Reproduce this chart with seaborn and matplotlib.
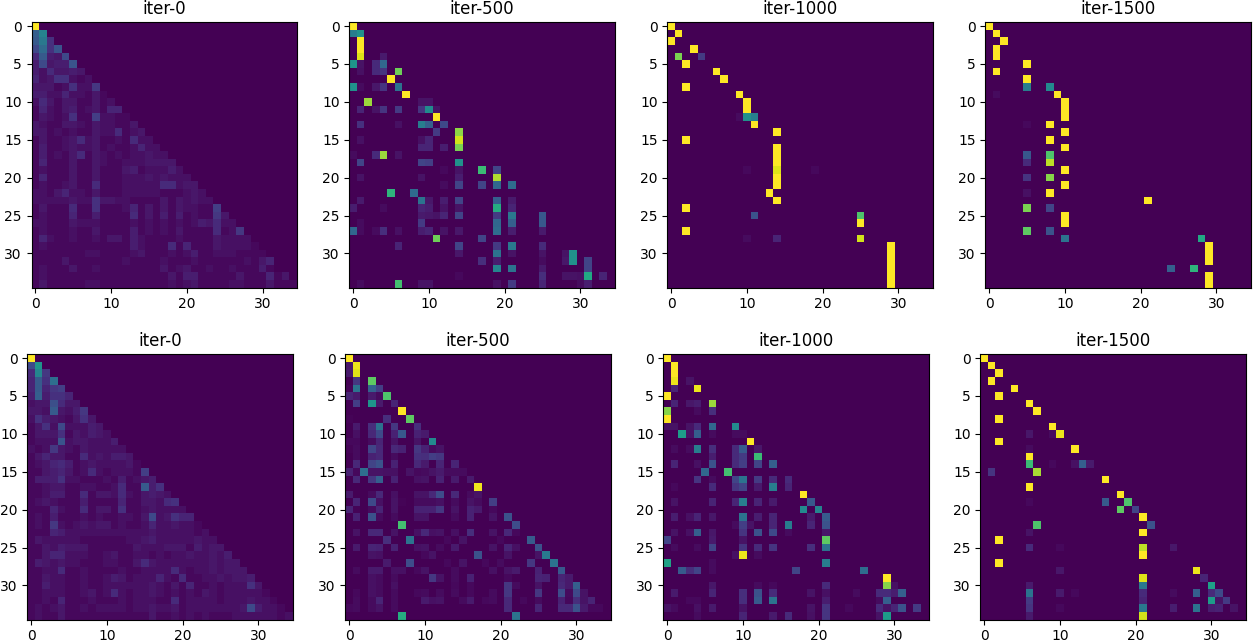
import numpy as np
import pandas as pd
import matplotlib
matplotlib.use("Agg")
import matplotlib.pyplot as plt
import seaborn as sns

N = 35
titles = ["iter-0", "iter-500", "iter-1000", "iter-1500"] * 2

# dense panels: one character per cell, base-36, z = 1.0
top_iter0 = [
"z","fm","ek7","bh7d","6e43b","4b344d","4263343","52377212","333127228","4422522131",
"26313311312","152134123155","1321271192211","32113321322113","331212113226123",
"1311236231121622","14112322312112522","141213613212122322","1511131132112223333",
"12111311311134122242","151113113111222323222","1211231161112222266233",
"22135221311122222111232","222223227332211113132322","1311161171112513131322119",
"12111511411116131414121183","221113222111121212121243622","1211121131111412121311116128",
"15211211213314211112111132222","121111111111142111615111322221",
"1111111221111231112124112221111","11113111111121111211121111112135",
"12111311211111111312311211211141","1211111111111111113144111113111513",
"13111112211111111121231111221113111",
]
bot_iter0 = [
"z","bq","6n8","5e7i","5e589","4f4775","233c633","332e3248","274321373","1372b22243",
"13337132432","1222d2332224","2128321322222","13533116232443","123564123222231",
"1134531262122219","14447221112141234","112331122112611e47","1124411613326213432",
"12321114111151133267","111521161331711232222","1214111212112213b23755",
"12182123233121125223221","111542222222222232222212","1322222111111223422222322",
"11324333111111322233314233","113552221123112212122322324","1432322111221136322222223233",
"11226112111121122226212232333","113221121124312225216112232334",
"1142211211222222321315112122273","11222112312621223212121321222221",
"112151112111212221161222212223221","12123112122221223223122222223b4221",
"12113111111111113112121211122222212",
]

# sparse panels: (row, column, value)
top_iter500 = [
(0,0,1.0),(1,0,.42),(1,1,.5),(2,1,1.0),(3,1,1.0),(4,1,.95),(4,4,.07),
(5,0,.52),(5,1,.05),(5,3,.12),(5,4,.33),(6,1,.04),(6,3,.12),(6,4,.15),(6,6,.78),
(7,5,1.0),(8,0,.5),(8,1,.03),(8,3,.06),(8,4,.15),(8,6,.38),(9,7,1.0),
(10,2,.85),(10,9,.05),(10,10,.05),(11,1,.1),(11,3,.05),(11,4,.15),(11,6,.17),(11,9,.15),(11,10,.48),(11,11,.05),
(12,11,1.0),(13,1,.14),(13,6,.04),(13,9,.42),(13,10,.3),(13,12,.22),(14,11,.17),(14,14,.83),
(15,1,.04),(15,9,.04),(15,10,.1),(15,14,.93),(16,9,.1),(16,10,.1),(16,12,.08),(16,14,.8),
(17,0,.03),(17,3,.12),(17,4,.85),(17,6,.05),(18,1,.2),(18,9,.2),(18,10,.18),(18,14,.5),
(19,12,.02),(19,14,.05),(19,17,.68),(19,19,.2),(20,1,.05),(20,9,.05),(20,14,.08),(20,19,.88),
(21,12,.03),(21,14,.2),(21,17,.2),(21,19,.33),(21,21,.35),(22,5,.65),(22,8,.35),
(23,1,.07),(23,9,.38),(23,10,.06),(23,12,.08),(23,14,.2),(23,19,.3),(23,21,.07),
(24,0,.08),(24,4,.03),(24,9,.1),(24,10,.08),(24,12,.05),(24,14,.05),(24,19,.62),(24,21,.1),
(25,9,.07),(25,10,.06),(25,11,.05),(25,12,.1),(25,14,.2),(25,19,.17),(25,21,.4),(25,25,.27),
(26,1,.03),(26,9,.17),(26,19,.33),(26,21,.3),(26,25,.27),
(27,0,.33),(27,1,.03),(27,3,.03),(27,4,.13),(27,6,.04),(27,9,.08),(27,10,.1),(27,12,.05),(27,14,.06),(27,19,.35),(27,21,.08),(27,25,.07),
(28,11,.78),(28,17,.2),(29,6,.1),(29,14,.2),(29,19,.17),(29,21,.4),(29,25,.12),
(30,14,.06),(30,19,.38),(30,21,.05),(30,25,.05),(30,28,.05),(30,29,.5),
(31,17,.13),(31,19,.08),(31,25,.03),(31,28,.06),(31,29,.5),(31,31,.2),
(32,19,.45),(32,21,.38),(32,25,.07),(32,31,.2),
(33,14,.02),(33,25,.13),(33,28,.05),(33,29,.05),(33,30,.04),(33,31,.6),(33,33,.1),
(34,1,.03),(34,6,.7),(34,9,.05),(34,10,.05),(34,19,.04),(34,21,.17),(34,25,.1),(34,30,.03),(34,31,.08),
]
top_iter1000 = [
(0,0,1),(1,1,1),(2,0,1),(3,3,1),(4,1,.8),(4,4,.17),(5,2,1),(6,6,1),(7,7,1),(8,2,1),(9,9,1),
(10,10,1),(11,10,1),(12,9,.03),(12,10,.5),(12,11,.43),(13,11,1),(14,14,1),(15,2,1),
(16,14,1),(17,14,1),(18,14,1),(19,10,.02),(19,14,.95),(19,19,.02),(20,14,1),(21,14,1),
(22,13,1),(23,14,1),(24,2,1),(25,11,.25),(25,25,.72),(26,25,1),(27,2,1),
(28,10,.03),(28,14,.1),(28,25,.93),(29,29,1),(30,29,1),(31,29,1),(32,29,1),(33,29,1),(34,29,1),
]
top_iter1500 = [
(0,0,1),(1,1,1),(2,2,1),(3,1,1),(4,1,1),(5,5,1),(6,1,1),(7,5,1),(8,5,.42),(8,8,.47),
(9,1,.03),(9,9,1),(10,10,1),(11,10,1),(12,10,1),(13,5,.02),(13,8,1),(14,10,1),(15,8,1),(16,10,1),
(17,5,.27),(17,8,.72),(18,5,.12),(18,8,.9),(19,10,1),(20,5,.15),(20,8,.82),(21,10,1),
(22,5,.04),(22,8,1),(23,21,1),(24,5,.8),(24,8,.2),(25,10,1),(26,10,1),(27,5,.75),(27,8,.25),
(28,10,.38),(28,28,.6),(29,29,1),(30,29,1),(31,29,1),(32,24,.3),(32,27,.65),(33,29,1),(34,29,1),
]
bot_iter500 = [
(0,0,1),(1,0,.06),(1,1,.97),(2,0,.07),(2,1,.95),(3,1,.16),(3,3,.75),(4,0,.01),(4,1,.38),(4,3,.31),(4,4,.18),
(5,0,.1),(5,1,.07),(5,3,.07),(5,4,.03),(5,5,.72),(6,1,.18),(6,3,.52),(6,4,.07),(6,6,.1),(7,7,1),
(8,0,.01),(8,5,.13),(8,8,.75),(9,1,.07),(9,3,.13),(9,4,.38),(9,6,.16),(9,9,.13),
(10,1,.04),(10,3,.11),(10,4,.22),(10,6,.09),(10,7,.27),(10,9,.09),(10,10,.07),
(11,0,.02),(11,1,.02),(11,3,.03),(11,4,.1),(11,6,.05),(11,9,.05),(11,11,.47),
(12,0,.01),(12,1,.03),(12,3,.2),(12,4,.11),(12,6,.11),(12,7,.09),(12,9,.16),(12,10,.09),(12,11,.03),(12,12,.05),
(13,1,.03),(13,3,.09),(13,4,.11),(13,6,.03),(13,9,.14),(13,10,.13),(13,11,.18),(13,12,.16),
(14,1,.11),(14,3,.2),(14,4,.25),(14,6,.09),(14,9,.11),(14,10,.07),(14,12,.1),(14,14,.1),
(15,0,.09),(15,1,.02),(15,2,.36),(15,3,.05),(15,4,.05),(15,5,.04),(15,6,.04),(15,8,.05),(15,9,.02),(15,10,.03),(15,11,.05),(15,12,.07),(15,13,.03),(15,14,.03),(15,15,.03),
(16,1,.11),(16,3,.16),(16,4,.3),(16,6,.09),(16,9,.04),(16,10,.05),(16,12,.09),(16,14,.07),(16,16,.07),
(17,17,.98),
(18,0,.07),(18,3,.03),(18,4,.11),(18,6,.04),(18,9,.05),(18,10,.05),(18,11,.11),(18,12,.23),(18,14,.11),(18,16,.03),(18,17,.05),
(19,1,.1),(19,3,.22),(19,4,.04),(19,6,.05),(19,7,.01),(19,9,.03),(19,10,.03),(19,11,.03),(19,12,.04),(19,14,.03),(19,16,.05),(19,17,.03),(19,19,.18),
(20,0,.1),(20,1,.01),(20,3,.03),(20,4,.1),(20,6,.05),(20,9,.09),(20,10,.09),(20,11,.09),(20,12,.16),(20,14,.05),(20,16,.09),(20,17,.07),(20,19,.02),
(21,1,.09),(21,3,.25),(21,4,.03),(21,6,.03),(21,9,.05),(21,10,.05),(21,14,.03),(21,16,.09),(21,19,.05),(21,21,.25),
(22,7,.7),(22,22,.23),
(23,1,.05),(23,3,.11),(23,4,.11),(23,6,.05),(23,9,.04),(23,10,.11),(23,11,.04),(23,12,.05),(23,14,.04),(23,16,.13),(23,19,.05),(23,21,.11),(23,22,.02),
(24,5,.13),(24,8,.38),(24,13,.02),(24,15,.05),(24,20,.02),(24,24,.28),
(25,1,.07),(25,3,.1),(25,4,.09),(25,6,.09),(25,9,.04),(25,10,.05),(25,12,.03),(25,14,.07),(25,19,.05),(25,21,.1),(25,22,.04),(25,25,.25),
(26,3,.05),(26,4,.04),(26,10,.02),(26,11,.05),(26,17,.25),(26,21,.05),(26,25,.05),(26,26,.41),
(27,5,.07),(27,8,.23),(27,13,.02),(27,15,.05),(27,18,.02),(27,20,.03),(27,24,.16),(27,27,.38),
(28,1,.03),(28,3,.07),(28,4,.07),(28,6,.04),(28,7,.04),(28,9,.02),(28,10,.05),(28,14,.03),(28,19,.04),(28,21,.05),(28,22,.07),(28,25,.09),(28,28,.27),
(29,3,.04),(29,4,.03),(29,6,.03),(29,11,.16),(29,12,.05),(29,14,.03),(29,16,.09),(29,21,.02),(29,25,.1),(29,26,.09),(29,28,.1),(29,29,.07),
(30,3,.04),(30,4,.03),(30,6,.04),(30,14,.02),(30,16,.02),(30,21,.16),(30,22,.03),(30,25,.05),(30,28,.11),(30,29,.07),(30,30,.3),
(31,1,.02),(31,3,.04),(31,4,.03),(31,6,.03),(31,9,.02),(31,10,.03),(31,12,.03),(31,14,.03),(31,16,.02),(31,19,.03),(31,21,.16),(31,25,.16),(31,28,.23),(31,29,.03),(31,30,.22),(31,31,.05),
(32,1,.03),(32,3,.03),(32,4,.1),(32,6,.03),(32,10,.07),(32,11,.04),(32,12,.05),(32,15,.03),(32,16,.07),(32,18,.02),(32,19,.03),(32,21,.11),(32,23,.02),(32,25,.03),(32,28,.09),(32,29,.02),(32,30,.13),(32,31,.05),(32,32,.1),
(33,0,.02),(33,1,.03),(33,3,.03),(33,4,.05),(33,6,.03),(33,21,.11),(33,25,.1),(33,28,.11),(33,29,.11),(33,30,.25),(33,31,.07),(33,32,.02),(33,33,.02),
(34,7,.62),(34,22,.38),
]
bot_iter1000 = [
(0,0,1),(1,1,1),(2,1,1),(3,1,.97),(3,3,.05),(4,1,.1),(4,4,.97),(5,0,1),
(6,1,.1),(6,3,.06),(6,4,.08),(6,6,.85),(7,0,.82),(7,4,.03),(7,6,.13),(8,0,1),
(9,0,.05),(9,1,.05),(9,3,.05),(9,4,.12),(9,6,.33),(9,9,.47),
(10,2,.55),(10,3,.05),(10,4,.3),(10,6,.03),(10,9,.03),(10,10,.03),(11,11,1),
(12,1,.03),(12,3,.03),(12,4,.42),(12,6,.13),(12,9,.12),(12,10,.28),(12,12,.06),
(13,6,.08),(13,9,.12),(13,10,.17),(13,12,.68),
(14,1,.1),(14,4,.04),(14,6,.25),(14,9,.12),(14,10,.18),(14,12,.2),(14,14,.3),
(15,5,.33),(15,8,.7),
(16,4,.15),(16,6,.03),(16,9,.2),(16,10,.38),(16,12,.17),(16,14,.12),(16,16,.12),
(17,1,.02),(17,6,.12),(17,9,.15),(17,10,.2),(17,12,.07),(17,14,.42),(17,16,.1),(18,18,1),
(19,1,.05),(19,6,.1),(19,9,.1),(19,10,.42),(19,12,.1),(19,14,.07),(19,19,.27),(20,18,.47),(20,20,.45),
(21,1,.08),(21,3,.04),(21,4,.1),(21,6,.06),(21,10,.38),(21,12,.08),(21,14,.1),(21,19,.07),(21,21,.28),
(22,9,.03),(22,10,.18),(22,11,.05),(22,14,.1),(22,16,.42),(22,19,.1),(22,21,.25),
(23,1,.05),(23,3,.04),(23,4,.3),(23,6,.06),(23,10,.15),(23,12,.25),(23,14,.22),(23,16,.03),(23,21,.06),
(24,0,.2),(24,6,.07),(24,10,.05),(24,21,.75),
(25,1,.03),(25,4,.03),(25,6,.2),(25,10,.15),(25,12,.12),(25,14,.15),(25,19,.13),(25,21,.38),
(26,9,.04),(26,10,.97),(26,12,.03),(27,0,.58),(27,6,.03),(27,21,.42),
(28,2,.28),(28,3,.13),(28,4,.2),(28,6,.03),(28,17,.2),(28,26,.35),(29,29,1),
(30,6,.06),(30,12,.03),(30,14,.02),(30,21,.12),(30,29,.82),(30,30,.04),
(31,1,.07),(31,6,.1),(31,10,.13),(31,12,.25),(31,14,.12),(31,19,.05),(31,21,.04),(31,25,.03),(31,28,.12),(31,29,.12),(31,30,.08),(31,31,.3),
(32,3,.02),(32,4,.02),(32,10,.13),(32,12,.28),(32,14,.38),(32,21,.08),(32,28,.03),(32,29,.3),
(33,0,.05),(33,1,.03),(33,4,.04),(33,6,.07),(33,10,.05),(33,19,.05),(33,21,.15),(33,24,.02),(33,28,.12),(33,29,.05),(33,30,.1),(33,31,.25),(33,33,.17),
(34,4,.03),(34,10,.1),(34,14,.07),(34,16,.12),(34,19,.04),(34,21,.15),(34,28,.05),(34,29,.55),
]
bot_iter1500 = [
(0,0,1),(1,1,1),(2,2,1),(3,1,1),(4,4,1),(5,2,1),(6,6,1),(7,7,1),(8,2,1),(9,9,1),
(10,6,.06),(10,9,.03),(10,10,.97),(11,2,1),(12,6,.03),(12,12,1),(13,6,1),
(14,6,.68),(14,9,.02),(14,12,.04),(14,13,.3),(14,14,.07),(15,1,.15),(15,7,.87),(16,16,1),(17,6,1),(18,18,1),
(19,6,.02),(19,16,.28),(19,19,.72),(20,18,.75),(20,20,.2),(21,21,1),(22,7,.72),(22,22,.25),
(23,6,.05),(23,21,1),(24,2,1),(25,6,.12),(25,10,.02),(25,21,.9),(25,25,.06),(26,21,1),(27,2,1),
(28,10,.06),(28,28,.97),(29,21,.95),(29,29,.1),(30,6,.07),(30,21,.4),(30,30,.57),
(31,6,.38),(31,10,.07),(31,12,.02),(31,21,.12),(31,25,.03),(31,28,.3),(31,30,.12),(31,31,.22),
(32,6,.17),(32,21,.1),(32,30,.55),(32,31,.05),(32,32,.17),
(33,6,.15),(33,10,.02),(33,21,.4),(33,25,.08),(33,28,.38),(33,30,.08),(33,31,.09),(33,33,.05),
(34,6,.07),(34,21,.93),
]

def from_rows(rows):
    m = np.zeros((N, N))
    for r, row in enumerate(rows):
        for c, ch in enumerate(row[:N]):
            m[r, c] = int(ch, 36) / 50 if ch != "z" else 1.0
    return m

def from_cells(cells):
    m = np.zeros((N, N))
    for r, c, v in cells:
        m[r, c] = v
    return m

panels = [from_rows(top_iter0), from_cells(top_iter500), from_cells(top_iter1000), from_cells(top_iter1500),
          from_rows(bot_iter0), from_cells(bot_iter500), from_cells(bot_iter1000), from_cells(bot_iter1500)]

W, H = 1254, 641
lefts = [31.5, 349.3, 667.3, 985.3, 27.3, 345.3, 663.3, 980.3]
tops = [22.3] * 4 + [354.3] * 4
side = 265.3

fig = plt.figure(figsize=(W / 100, H / 100), dpi=100)
for m, t, l, tp in zip(panels, titles, lefts, tops):
    ax = fig.add_axes([l / W, 1 - (tp + side) / H, side / W, side / H])
    sns.heatmap(pd.DataFrame(m), ax=ax, cmap="viridis", vmin=0, vmax=1, cbar=False,
                xticklabels=False, yticklabels=False)
    ax.set_xticks(np.arange(0, N, 10) + .5, labels=[str(k) for k in range(0, N, 10)], rotation=0)
    ax.set_yticks(np.arange(0, N, 5) + .5, labels=[str(k) for k in range(0, N, 5)], rotation=0)
    ax.tick_params(length=3.5, width=.8, labelsize=10, colors="black")
    for s in ax.spines.values():
        s.set_visible(True)
        s.set_linewidth(.8)
        s.set_color("black")
    ax.set_title(t, fontsize=12, pad=6)
    ax.set_xlabel("")
    ax.set_ylabel("")
fig.savefig("out.png", dpi=100)
